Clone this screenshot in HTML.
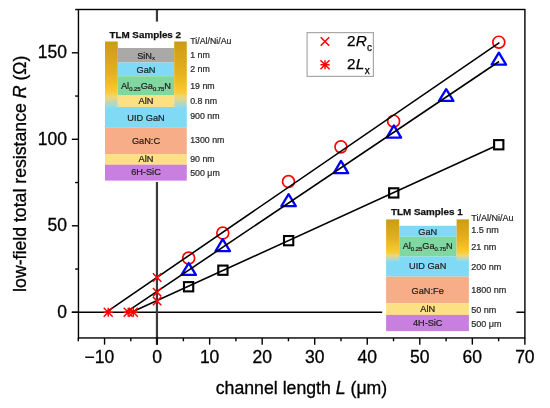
<!DOCTYPE html>
<html><head><meta charset="utf-8"><title>TLM plot</title>
<style>
html,body{margin:0;padding:0;background:#fff;}
body{width:550px;height:408px;overflow:hidden;position:relative;}
svg{position:absolute;left:0;top:0;font-family:"Liberation Sans",Arial,sans-serif;}
</style></head>
<body>
<svg width="550" height="408" viewBox="0 0 550 408">
<defs>
<linearGradient id="gold2" x1="0" y1="0" x2="0" y2="1">
<stop offset="0" stop-color="#cc9a16"/><stop offset="0.5" stop-color="#e6b21f"/><stop offset="0.754" stop-color="#fbc930"/><stop offset="0.837" stop-color="#f0d67a"/><stop offset="0.93" stop-color="#b8d8b8"/><stop offset="1" stop-color="#8cdaf0"/>
</linearGradient>
<linearGradient id="gold1" x1="0" y1="0" x2="0" y2="1">
<stop offset="0" stop-color="#cc9a16"/><stop offset="0.45" stop-color="#e4b020"/><stop offset="0.77" stop-color="#fbc930"/><stop offset="0.87" stop-color="#ecd680"/><stop offset="0.94" stop-color="#b4dac4"/><stop offset="1" stop-color="#8cdaf0"/>
</linearGradient>
</defs>
<line x1="71.8" y1="312.3" x2="524.9" y2="312.3" stroke="#000" stroke-width="1.5"/>
<line x1="156.95" y1="9.5" x2="156.95" y2="344.65" stroke="#3a3a3a" stroke-width="2.2"/>
<rect x="78.45" y="9.5" width="446.45" height="328.45" fill="none" stroke="#000" stroke-width="1.4"/>
<line x1="78.29" y1="337.95" x2="78.29" y2="341.25" stroke="#000" stroke-width="1.4"/>
<line x1="104.56" y1="337.95" x2="104.56" y2="344.65" stroke="#000" stroke-width="1.4"/>
<line x1="130.83" y1="337.95" x2="130.83" y2="341.25" stroke="#000" stroke-width="1.4"/>
<line x1="157.10" y1="337.95" x2="157.10" y2="344.65" stroke="#000" stroke-width="1.4"/>
<line x1="183.37" y1="337.95" x2="183.37" y2="341.25" stroke="#000" stroke-width="1.4"/>
<line x1="209.64" y1="337.95" x2="209.64" y2="344.65" stroke="#000" stroke-width="1.4"/>
<line x1="235.91" y1="337.95" x2="235.91" y2="341.25" stroke="#000" stroke-width="1.4"/>
<line x1="262.18" y1="337.95" x2="262.18" y2="344.65" stroke="#000" stroke-width="1.4"/>
<line x1="288.45" y1="337.95" x2="288.45" y2="341.25" stroke="#000" stroke-width="1.4"/>
<line x1="314.72" y1="337.95" x2="314.72" y2="344.65" stroke="#000" stroke-width="1.4"/>
<line x1="340.99" y1="337.95" x2="340.99" y2="341.25" stroke="#000" stroke-width="1.4"/>
<line x1="367.26" y1="337.95" x2="367.26" y2="344.65" stroke="#000" stroke-width="1.4"/>
<line x1="393.53" y1="337.95" x2="393.53" y2="341.25" stroke="#000" stroke-width="1.4"/>
<line x1="419.80" y1="337.95" x2="419.80" y2="344.65" stroke="#000" stroke-width="1.4"/>
<line x1="446.07" y1="337.95" x2="446.07" y2="341.25" stroke="#000" stroke-width="1.4"/>
<line x1="472.34" y1="337.95" x2="472.34" y2="344.65" stroke="#000" stroke-width="1.4"/>
<line x1="498.61" y1="337.95" x2="498.61" y2="341.25" stroke="#000" stroke-width="1.4"/>
<line x1="524.88" y1="337.95" x2="524.88" y2="344.65" stroke="#000" stroke-width="1.4"/>
<line x1="71.85" y1="312.30" x2="78.45" y2="312.30" stroke="#000" stroke-width="1.4"/>
<line x1="75.15" y1="269.05" x2="78.45" y2="269.05" stroke="#000" stroke-width="1.4"/>
<line x1="71.85" y1="225.80" x2="78.45" y2="225.80" stroke="#000" stroke-width="1.4"/>
<line x1="75.15" y1="182.55" x2="78.45" y2="182.55" stroke="#000" stroke-width="1.4"/>
<line x1="71.85" y1="139.30" x2="78.45" y2="139.30" stroke="#000" stroke-width="1.4"/>
<line x1="75.15" y1="96.05" x2="78.45" y2="96.05" stroke="#000" stroke-width="1.4"/>
<line x1="71.85" y1="52.80" x2="78.45" y2="52.80" stroke="#000" stroke-width="1.4"/>
<line x1="75.15" y1="9.55" x2="78.45" y2="9.55" stroke="#000" stroke-width="1.4"/>
<g font-size="17.5" fill="#000" stroke="#000" stroke-width="0.3"><text x="104.56" y="363.4" text-anchor="middle">10</text><text x="94.83" y="363.4" text-anchor="end">&#8722;</text><text x="157.10" y="363.4" text-anchor="middle">0</text><text x="209.64" y="363.4" text-anchor="middle">10</text><text x="262.18" y="363.4" text-anchor="middle">20</text><text x="314.72" y="363.4" text-anchor="middle">30</text><text x="367.26" y="363.4" text-anchor="middle">40</text><text x="419.80" y="363.4" text-anchor="middle">50</text><text x="472.34" y="363.4" text-anchor="middle">60</text><text x="524.88" y="363.4" text-anchor="middle">70</text><text x="66.9" y="317.80" text-anchor="end">0</text><text x="66.9" y="231.30" text-anchor="end">50</text><text x="66.9" y="144.80" text-anchor="end">100</text><text x="66.9" y="58.30" text-anchor="end">150</text></g>
<circle cx="188.65" cy="258.15" r="5.95" fill="none" stroke="#f00" stroke-width="1.7"/>
<circle cx="222.8" cy="233.05" r="5.95" fill="none" stroke="#f00" stroke-width="1.7"/>
<circle cx="288.5" cy="181.55" r="5.95" fill="none" stroke="#f00" stroke-width="1.7"/>
<circle cx="340.9" cy="146.85" r="5.95" fill="none" stroke="#f00" stroke-width="1.7"/>
<circle cx="393.6" cy="121.2" r="5.95" fill="none" stroke="#f00" stroke-width="1.7"/>
<circle cx="498.8" cy="42.2" r="5.95" fill="none" stroke="#f00" stroke-width="1.7"/>
<path d="M188.70 263.05L195.90 274.95L181.50 274.95Z" fill="none" stroke="#00f" stroke-width="2.3" stroke-linejoin="round"/>
<path d="M222.75 239.15L229.95 251.15L215.55 251.15Z" fill="none" stroke="#00f" stroke-width="2.3" stroke-linejoin="round"/>
<path d="M288.60 194.15L295.80 206.15L281.40 206.15Z" fill="none" stroke="#00f" stroke-width="2.3" stroke-linejoin="round"/>
<path d="M341.00 160.95L348.20 173.15L333.80 173.15Z" fill="none" stroke="#00f" stroke-width="2.3" stroke-linejoin="round"/>
<path d="M393.90 125.45L401.10 137.65L386.70 137.65Z" fill="none" stroke="#00f" stroke-width="2.3" stroke-linejoin="round"/>
<path d="M446.20 89.15L453.40 100.95L439.00 100.95Z" fill="none" stroke="#00f" stroke-width="2.3" stroke-linejoin="round"/>
<path d="M498.85 52.65L506.05 64.65L491.65 64.65Z" fill="none" stroke="#00f" stroke-width="2.3" stroke-linejoin="round"/>
<rect x="183.97" y="282.12" width="9.25" height="9.25" fill="none" stroke="#000" stroke-width="2.1"/>
<rect x="218.28" y="265.57" width="9.25" height="9.25" fill="none" stroke="#000" stroke-width="2.1"/>
<rect x="284.02" y="236.03" width="9.25" height="9.25" fill="none" stroke="#000" stroke-width="2.1"/>
<rect x="389.12" y="188.28" width="9.25" height="9.25" fill="none" stroke="#000" stroke-width="2.1"/>
<rect x="494.12" y="140.12" width="9.25" height="9.25" fill="none" stroke="#000" stroke-width="2.1"/>
<line x1="106.0" y1="312.35" x2="499.4" y2="42.6" stroke="#000" stroke-width="1.6"/>
<line x1="125.9" y1="312.35" x2="499.05" y2="61.5" stroke="#000" stroke-width="1.6"/>
<line x1="131.4" y1="312.35" x2="493.4" y2="146.9" stroke="#000" stroke-width="1.6"/>
<path d="M152.90 273.30L161.30 281.70M161.30 273.30L152.90 281.70" stroke="#f00" stroke-width="1.5" fill="none"/>
<path d="M152.90 288.00L161.30 296.40M161.30 288.00L152.90 296.40" stroke="#f00" stroke-width="1.5" fill="none"/>
<path d="M152.90 296.85L161.30 305.25M161.30 296.85L152.90 305.25" stroke="#f00" stroke-width="1.5" fill="none"/>
<path d="M103.70 307.85L112.70 316.85M112.70 307.85L103.70 316.85M108.20 307.85L108.20 316.85M103.70 312.35L112.70 312.35" stroke="#f00" stroke-width="1.45" fill="none"/>
<path d="M123.70 307.85L132.70 316.85M132.70 307.85L123.70 316.85M128.20 307.85L128.20 316.85M123.70 312.35L132.70 312.35" stroke="#f00" stroke-width="1.45" fill="none"/>
<path d="M128.80 307.85L137.80 316.85M137.80 307.85L128.80 316.85M133.30 307.85L133.30 316.85M128.80 312.35L137.80 312.35" stroke="#f00" stroke-width="1.45" fill="none"/>
<rect x="307.1" y="32.6" width="66.3" height="43.8" fill="#fff" stroke="#a8a8a8" stroke-width="1.2"/>
<path d="M320.70 37.20L329.20 45.70M329.20 37.20L320.70 45.70" stroke="#f00" stroke-width="1.5" fill="none"/>
<path d="M320.45 60.15L329.55 69.25M329.55 60.15L320.45 69.25M325.00 60.15L325.00 69.25M320.45 64.70L329.55 64.70" stroke="#f00" stroke-width="1.45" fill="none"/>
<text x="346.9" y="46.2" font-size="15.3" stroke="#000" stroke-width="0.25">2<tspan font-style="italic" dx="0.3">R</tspan><tspan font-size="10" dy="4.5" dx="0.3">c</tspan></text>
<text x="346.9" y="69.2" font-size="15.3" stroke="#000" stroke-width="0.25">2<tspan font-style="italic" dx="0.3">L</tspan><tspan font-size="10" dy="4.6" dx="0.4">x</tspan></text>
<text x="301.5" y="394.4" font-size="17.7" stroke="#000" stroke-width="0.3" text-anchor="middle">channel length <tspan font-style="italic">L</tspan> (&#956;m)</text>
<text transform="translate(25.6 173.7) rotate(-90)" x="0" y="0" font-size="17.7" stroke="#000" stroke-width="0.3" text-anchor="middle">low-field total resistance <tspan font-style="italic">R</tspan> (&#937;)</text>
<rect x="100" y="21.6" width="142" height="160.4" fill="#fff"/>
<text x="109.4" y="38.4" font-size="9.85" font-weight="bold" fill="#111" stroke="#111" stroke-width="0.25">TLM Samples 2</text>
<rect x="105" y="107" width="81.8" height="20.2" fill="#80daf6"/>
<rect x="105" y="127.2" width="81.8" height="26.9" fill="#f7ae88"/>
<rect x="105" y="154.1" width="81.8" height="10.6" fill="#fde084"/>
<rect x="105" y="164.7" width="81.8" height="15.9" fill="#c97fe0"/>
<rect x="117.8" y="48" width="56.4" height="14.5" fill="#aba8a8"/>
<rect x="117.8" y="62.5" width="56.4" height="13.7" fill="#80daf6"/>
<rect x="117.8" y="76.2" width="56.4" height="19.3" fill="#80d8a0"/>
<rect x="117.8" y="95.5" width="56.4" height="11.5" fill="#fde084"/>
<rect x="105" y="41.5" width="12.8" height="66.3" fill="url(#gold2)"/>
<rect x="174.2" y="41.5" width="12.6" height="66.3" fill="url(#gold2)"/>
<text x="146" y="58.5" font-size="9.2" fill="#222" stroke="#222" stroke-width="0.22" text-anchor="middle">SiN<tspan font-size="5.2" dy="1.9" dx="0.2">x</tspan></text>
<text x="146" y="72.5" font-size="9.2" fill="#222" stroke="#222" stroke-width="0.22" text-anchor="middle">GaN</text>
<text x="146" y="88.9" font-size="9.2" fill="#222" stroke="#222" stroke-width="0.22" text-anchor="middle">Al<tspan font-size="5.9" dy="2.0">0.25</tspan><tspan dy="-2.0">Ga</tspan><tspan font-size="5.9" dy="2.0">0.75</tspan><tspan dy="-2.0">N</tspan></text>
<text x="146" y="104.1" font-size="9.2" fill="#222" stroke="#222" stroke-width="0.22" text-anchor="middle">AlN</text>
<text x="146" y="120.5" font-size="9.2" fill="#222" stroke="#222" stroke-width="0.22" text-anchor="middle">UID GaN</text>
<text x="146" y="143.8" font-size="9.2" fill="#222" stroke="#222" stroke-width="0.22" text-anchor="middle">GaN:C</text>
<text x="146" y="162.1" font-size="9.2" fill="#222" stroke="#222" stroke-width="0.22" text-anchor="middle">AlN</text>
<text x="146" y="175.4" font-size="9.2" fill="#222" stroke="#222" stroke-width="0.22" text-anchor="middle">6H-SiC</text>
<text x="190.2" y="44.2" font-size="8.8" fill="#2a2a2a" stroke="#2a2a2a" stroke-width="0.22">Ti/Al/Ni/Au</text>
<text x="190.2" y="58" font-size="8.8" fill="#2a2a2a" stroke="#2a2a2a" stroke-width="0.22">1 nm</text>
<text x="190.2" y="71.8" font-size="8.8" fill="#2a2a2a" stroke="#2a2a2a" stroke-width="0.22">2 nm</text>
<text x="190.2" y="88.6" font-size="8.8" fill="#2a2a2a" stroke="#2a2a2a" stroke-width="0.22">19 nm</text>
<text x="190.2" y="103.8" font-size="8.8" fill="#2a2a2a" stroke="#2a2a2a" stroke-width="0.22">0.8 nm</text>
<text x="190.2" y="119.4" font-size="8.8" fill="#2a2a2a" stroke="#2a2a2a" stroke-width="0.22">900 nm</text>
<text x="190.2" y="142.8" font-size="8.8" fill="#2a2a2a" stroke="#2a2a2a" stroke-width="0.22">1300 nm</text>
<text x="190.2" y="161.8" font-size="8.8" fill="#2a2a2a" stroke="#2a2a2a" stroke-width="0.22">90 nm</text>
<text x="190.2" y="175.5" font-size="8.8" fill="#2a2a2a" stroke="#2a2a2a" stroke-width="0.22">500 &#956;m</text>
<rect x="382.2" y="203" width="134.2" height="131" fill="#fff"/>
<text x="391.0" y="215.0" font-size="9.85" font-weight="bold" fill="#111" stroke="#111" stroke-width="0.25">TLM Samples 1</text>
<rect x="386.1" y="256.3" width="82.8" height="20.3" fill="#80daf6"/>
<rect x="386.1" y="276.6" width="82.8" height="26.6" fill="#f7ae88"/>
<rect x="386.1" y="303.2" width="82.8" height="11.7" fill="#fde084"/>
<rect x="386.1" y="314.9" width="82.8" height="16.2" fill="#c97fe0"/>
<rect x="399.2" y="225.8" width="57.4" height="11" fill="#80daf6"/>
<rect x="399.2" y="236.8" width="57.4" height="19.5" fill="#80d8a0"/>
<rect x="386.1" y="219.4" width="13.1" height="42" fill="url(#gold1)"/>
<rect x="456.6" y="219.4" width="12.3" height="42" fill="url(#gold1)"/>
<text x="427.7" y="234.6" font-size="9.2" fill="#222" stroke="#222" stroke-width="0.22" text-anchor="middle">GaN</text>
<text x="427.7" y="249.4" font-size="9.2" fill="#222" stroke="#222" stroke-width="0.22" text-anchor="middle">Al<tspan font-size="5.9" dy="2.0">0.25</tspan><tspan dy="-2.0">Ga</tspan><tspan font-size="5.9" dy="2.0">0.75</tspan><tspan dy="-2.0">N</tspan></text>
<text x="427.7" y="269.1" font-size="9.2" fill="#222" stroke="#222" stroke-width="0.22" text-anchor="middle">UID GaN</text>
<text x="427.7" y="293.8" font-size="9.2" fill="#222" stroke="#222" stroke-width="0.22" text-anchor="middle">GaN:Fe</text>
<text x="427.7" y="312.4" font-size="9.2" fill="#222" stroke="#222" stroke-width="0.22" text-anchor="middle">AlN</text>
<text x="427.7" y="326.1" font-size="9.2" fill="#222" stroke="#222" stroke-width="0.22" text-anchor="middle">4H-SiC</text>
<text x="471.2" y="220.6" font-size="9.05" fill="#2a2a2a" stroke="#2a2a2a" stroke-width="0.22">Ti/Al/Ni/Au</text>
<text x="471.2" y="233.4" font-size="9.05" fill="#2a2a2a" stroke="#2a2a2a" stroke-width="0.22">1.5 nm</text>
<text x="471.2" y="249.7" font-size="9.05" fill="#2a2a2a" stroke="#2a2a2a" stroke-width="0.22">21 nm</text>
<text x="471.2" y="270.3" font-size="9.05" fill="#2a2a2a" stroke="#2a2a2a" stroke-width="0.22">200 nm</text>
<text x="471.2" y="292.8" font-size="9.05" fill="#2a2a2a" stroke="#2a2a2a" stroke-width="0.22">1800 nm</text>
<text x="471.2" y="312.5" font-size="9.05" fill="#2a2a2a" stroke="#2a2a2a" stroke-width="0.22">50 nm</text>
<text x="471.2" y="326.6" font-size="9.05" fill="#2a2a2a" stroke="#2a2a2a" stroke-width="0.22">500 &#956;m</text>
</svg>
</body></html>
